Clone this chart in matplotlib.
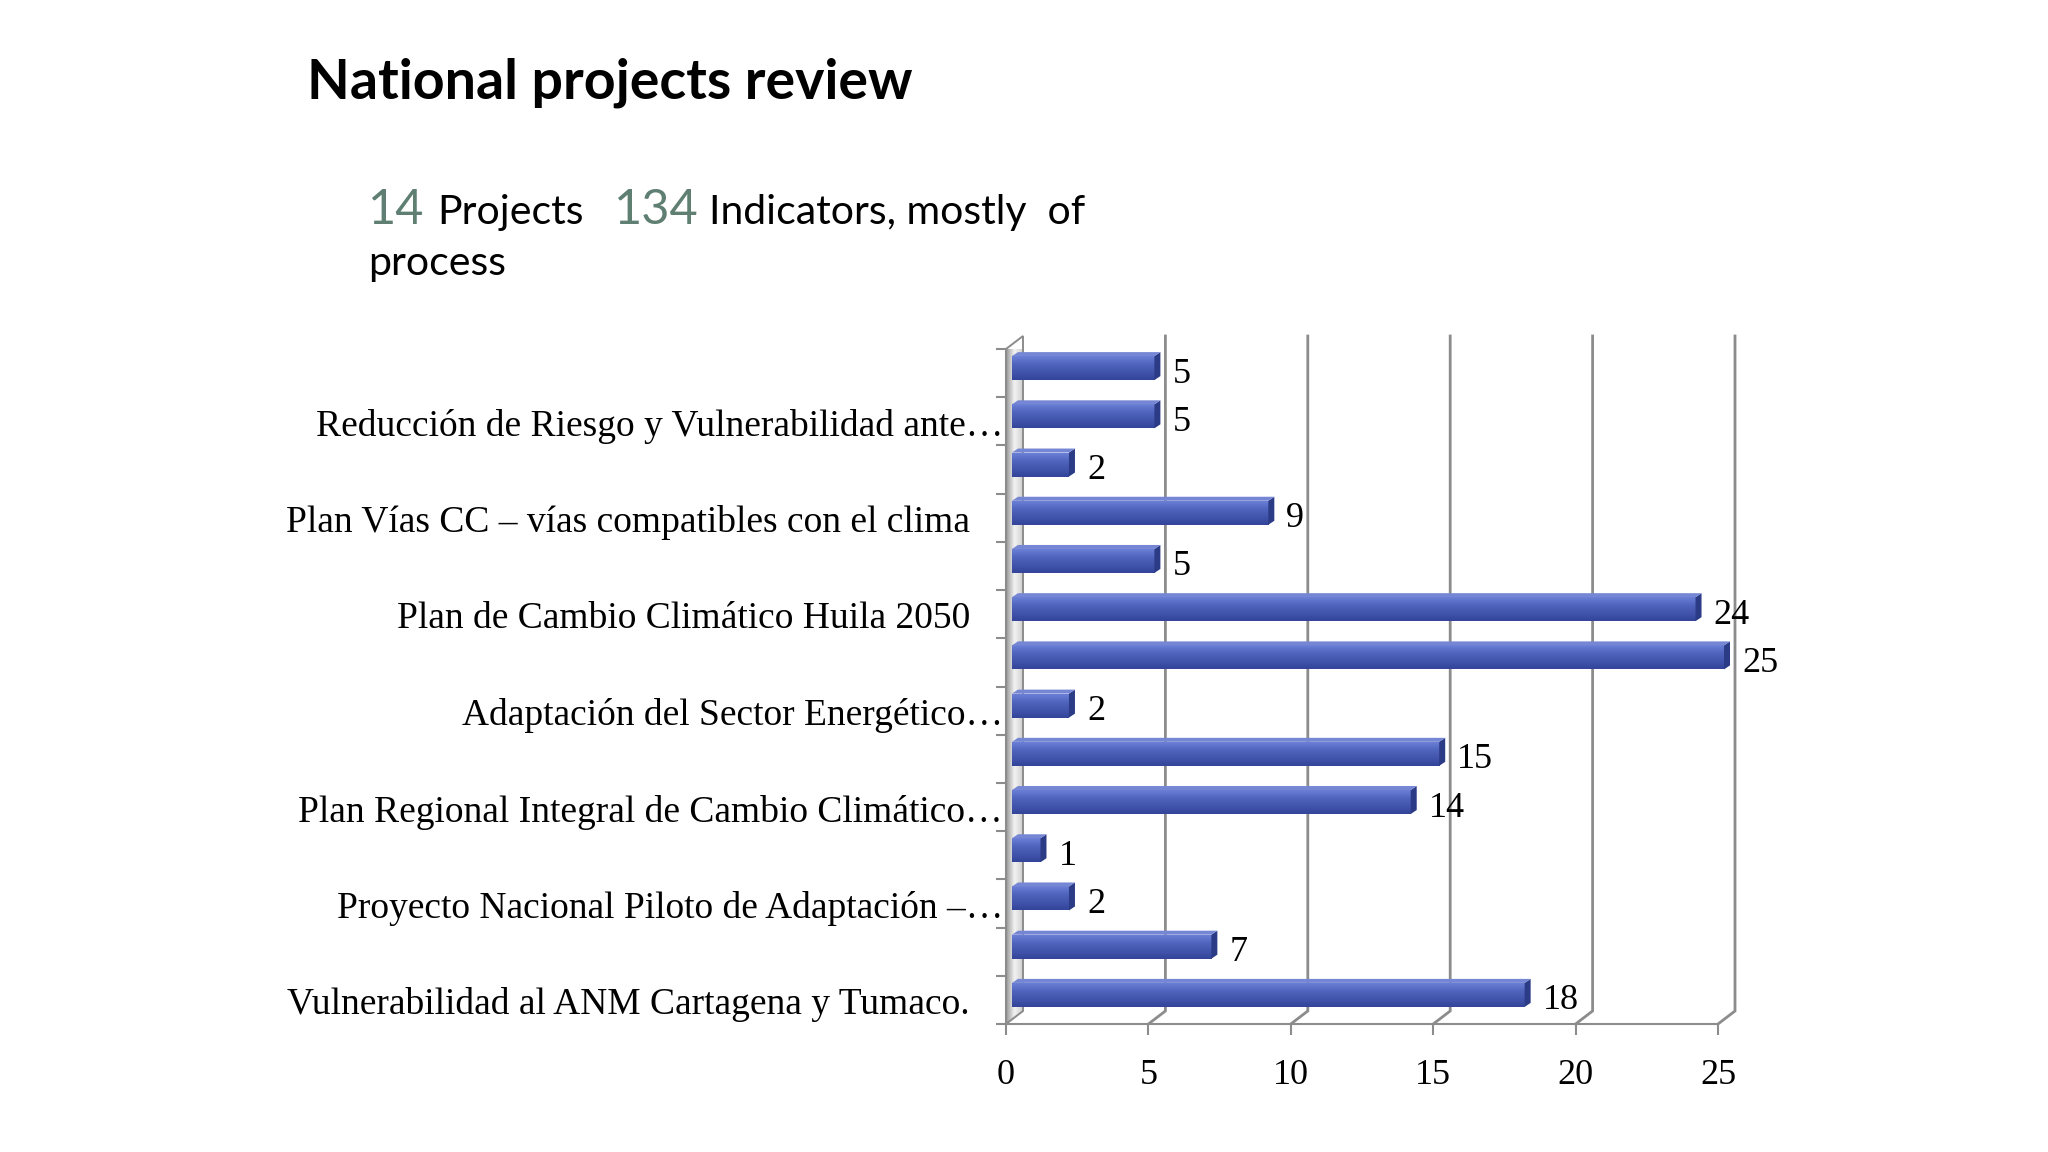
import matplotlib.pyplot as plt
import numpy as np
from matplotlib.colors import LinearSegmentedColormap
from matplotlib.patches import Polygon

# data, bottom to top as in the chart
projects = [
    'Vulnerabilidad al ANM Cartagena y Tumaco.',
    '',
    'Proyecto Nacional Piloto de Adaptación –…',
    '',
    'Plan Regional Integral de Cambio Climático…',
    '',
    'Adaptación del Sector Energético…',
    '',
    'Plan de Cambio Climático Huila 2050',
    '',
    'Plan Vías CC – vías compatibles con el clima',
    '',
    'Reducción de Riesgo y Vulnerabilidad ante…',
    '',
]
indicators = [18, 7, 2, 1, 14, 15, 2, 25, 24, 5, 9, 2, 5, 5]
x_ticks = [0, 5, 10, 15, 20, 25]

title = 'National projects review'
n_projects = '14'
n_indicators = '134'

W, H = 2048, 1152
grey = '#8c8c8c'
serif = 'Liberation Serif'

fig = plt.figure(figsize=(W / 100, H / 100), dpi=100)
fig.patch.set_facecolor('white')

# front frame of the 3d plot area
ax = fig.add_axes([1006 / W, 1 - 1024 / H, 712 / W, 675 / H])
ax.set_xlim(0, 25)
ax.set_ylim(-0.5, len(indicators) - 0.5)
ax.patch.set_alpha(0)

ux = 712 / 25      # px per x unit
uy = 675 / 14      # px per category
back_dx, back_dy = 17 / ux, 13 / uy
bar_dx, bar_dy = 6 / ux, 5 / uy
deep_dx, deep_dy = 6 / ux, 4 / uy
bar_h = 24 / uy
top = len(indicators) - 0.5

# left wall
wall = Polygon([(0, -0.5), (back_dx, -0.5 + back_dy), (back_dx, top + back_dy), (0, top)],
               closed=True, facecolor='none', edgecolor=grey, lw=1.4, zorder=2, clip_on=False)
ax.add_patch(wall)
wall_cmap = LinearSegmentedColormap.from_list('wall', ['#969696', '#f3f3f3', '#d0d0d0'])
im = ax.imshow(np.linspace(0, 1, 64).reshape(1, -1), cmap=wall_cmap, aspect='auto',
               extent=(0, back_dx, -0.5, top + back_dy), zorder=1, interpolation='bicubic')
im.set_clip_path(wall)
im.set_clip_box(None)

# back gridlines with the floor diagonals
for x in x_ticks[1:]:
    ax.plot([x, x + back_dx, x + back_dx], [-0.5, -0.5 + back_dy, top + back_dy],
            color=grey, lw=2, zorder=1.5, clip_on=False, solid_joinstyle='miter')

# bars
y_pos = np.arange(len(indicators))
bars = ax.barh(y_pos + bar_dy, indicators, height=bar_h, left=bar_dx,
               color='#4a5eb7', zorder=3, clip_on=False)
bar_cmap = LinearSegmentedColormap.from_list('bar', ['#6a7ed5', '#4f64bd', '#4255ac', '#34459b'])
for b, v in zip(bars, indicators):
    x0, y0, w, h = b.get_x(), b.get_y(), b.get_width(), b.get_height()
    x1, y1 = x0 + w, y0 + h
    g = ax.imshow(np.linspace(0, 1, 32).reshape(-1, 1), cmap=bar_cmap, aspect='auto',
                  extent=(x0, x1, y0, y1), zorder=3.1, interpolation='bicubic')
    g.set_clip_path(b)
    ax.add_patch(Polygon([(x1, y0), (x1 + deep_dx, y0 + deep_dy), (x1 + deep_dx, y1 + deep_dy), (x1, y1)],
                         closed=True, facecolor='#2c3b86', edgecolor='none', zorder=3.2, clip_on=False))
    ax.add_patch(Polygon([(x0, y1), (x0 + deep_dx, y1 + deep_dy), (x1 + deep_dx, y1 + deep_dy), (x1, y1)],
                         closed=True, facecolor='#7587d4', edgecolor='none', zorder=3.2, clip_on=False))
    ax.annotate(str(v), (x1 + deep_dx, y0 + h / 2), xytext=(12 * 0.72, -6 * 0.72),
                textcoords='offset points', ha='left', va='center',
                fontsize=26, family=serif, annotation_clip=False)

# axes lines and ticks
for s in ['top', 'right']:
    ax.spines[s].set_visible(False)
for s in ['left', 'bottom']:
    ax.spines[s].set_color(grey)
    ax.spines[s].set_linewidth(1.5)
    ax.spines[s].set_zorder(2.5)
ax.set_xticks(x_ticks)
ax.set_xticklabels([str(t) for t in x_ticks], family=serif, fontsize=26)
ax.tick_params(axis='x', length=8, width=1.5, color=grey, pad=17)
ax.set_yticks([])
ax.set_yticks(np.arange(-0.5, len(indicators), 1), minor=True)
ax.tick_params(axis='y', which='minor', length=7.5, width=1.5, color=grey)

# category labels
for k, label in enumerate(projects):
    if not label:
        continue
    gap = 3 if label.endswith('…') else 36
    ax.annotate(label, (0, k), xytext=(-gap * 0.72, -5 * 0.72), textcoords='offset points',
                ha='right', va='center', fontsize=27, family=serif, annotation_clip=False)

# title and summary line
green = '#5f7f73'
fig.text(307 / W, 1 - 99 / H, title, fontsize=40, family='Lato', weight='bold',
         va='baseline', ha='left')
fig.text(368 / W, 1 - 224 / H, n_projects, fontsize=35, family='Lato', color=green, va='baseline')
fig.text(437 / W, 1 - 224 / H, 'Projects', fontsize=29.5, family='Lato', va='baseline')
fig.text(614 / W, 1 - 224 / H, n_indicators, fontsize=35, family='Lato', color=green, va='baseline')
fig.text(709 / W, 1 - 224 / H, 'Indicators, mostly  of', fontsize=29.5, family='Lato', va='baseline')
fig.text(368 / W, 1 - 275 / H, 'process', fontsize=29.5, family='Lato', va='baseline')

fig.savefig('out.png', dpi=100)
